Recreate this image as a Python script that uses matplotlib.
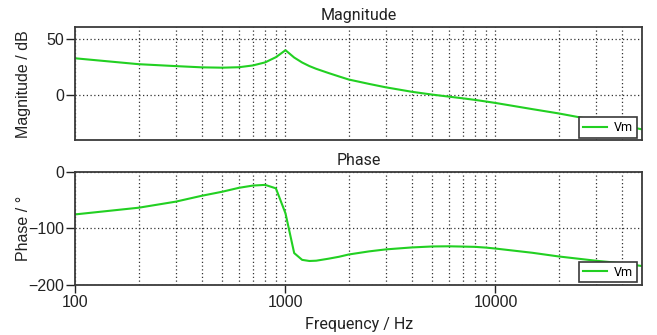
import matplotlib.pyplot as plt
import numpy as np
from matplotlib.ticker import LogLocator, NullFormatter, FixedLocator

# data
freq = [100, 200, 300, 400, 500, 600, 700, 800, 900, 1000,
        1100, 1200, 1300, 1400, 1600, 1800, 2000, 2500, 3000, 4000,
        5000, 6000, 7000, 8000, 9000, 10000, 15000, 20000, 30000, 40000, 50000]
mag_db = [32.5, 27.3, 25.6, 24.5, 24.2, 24.6, 26.2, 28.9, 33.5, 39.7,
          33.2, 28.8, 25.6, 23.2, 19.5, 16.4, 13.7, 9.8, 6.8, 2.8,
          0.3, -1.5, -3.0, -4.4, -5.8, -7.1, -12.6, -16.4, -22.5, -26.8, -30.6]
phase_deg = [-75.5, -63.7, -53.0, -42.5, -35.4, -28.5, -24.5, -23.3, -29.4, -73.7,
             -144.0, -156.0, -158.0, -157.5, -154.0, -150.5, -146.5, -141.0, -137.5, -134.0,
             -132.3, -132.0, -132.5, -133.0, -134.3, -136.0, -143.5, -150.0, -157.5, -162.0, -167.0]
series_name = "Vm"

green = '#22d022'
edge = '#3a3a3a'
txt = '#222222'

plt.rcParams['font.family'] = ['Liberation Sans', 'DejaVu Sans']
title_font = ['Roboto', 'DejaVu Sans']

fig = plt.figure(figsize=(6.57, 3.35), dpi=100)
ax1 = fig.add_axes([0.1149, 0.582, 0.8627, 0.3364])
ax2 = fig.add_axes([0.1149, 0.1501, 0.8627, 0.3373])

panels = [(ax1, mag_db, "Magnitude", "Magnitude / dB", (-40, 60), [0, 50]),
          (ax2, phase_deg, "Phase", "Phase / °", (-200, 0), [-200, -100, 0])]

for ax, vals, title, ylab, ylim, yt in panels:
    ax.plot(freq, vals, color=green, lw=1.5, label=series_name)
    ax.set_xscale('log')
    ax.set_xlim(100, 50000)
    ax.set_ylim(*ylim)
    ax.set_yticks(yt)
    ax.xaxis.set_major_locator(FixedLocator([100, 1000, 10000]))
    ax.xaxis.set_minor_locator(LogLocator(base=10, subs=np.arange(2, 10)))
    ax.xaxis.set_minor_formatter(NullFormatter())
    ax.grid(True, which='both', axis='x', color='#333333', ls=(0, (1, 2)), lw=0.9)
    ax.grid(True, which='major', axis='y', color='#333333', ls=(0, (1, 2)), lw=0.9)
    ax.set_title(title, fontsize=11.5, pad=5, color=txt, family=title_font)
    ax.set_ylabel(ylab, fontsize=11.5, color=txt)
    ax.yaxis.set_label_coords(-0.079, 0.5)
    ax.tick_params(axis='y', which='major', length=6.5, width=1, pad=1.5,
                   labelsize=11.5, colors=txt)
    ax.tick_params(axis='x', which='minor', length=0)
    for s in ax.spines.values():
        s.set_color(edge)
        s.set_linewidth(1.3)
    leg = ax.legend(loc='lower right', bbox_to_anchor=(0.991, 0.02),
                    handlelength=1.9, handletextpad=0.6, borderpad=0.3,
                    fancybox=False, framealpha=1, borderaxespad=0,
                    prop={'family': title_font, 'size': 9})
    leg.get_frame().set_edgecolor(edge)
    leg.get_frame().set_linewidth(1.2)

ax1.tick_params(axis='x', which='major', length=0, labelbottom=False)
ax2.tick_params(axis='x', which='major', length=5.5, width=1, pad=2,
                labelsize=11.5, colors=txt)
ax2.set_xticklabels(['100', '1000', '10000'])
ax2.set_xlabel("Frequency / Hz", fontsize=11.5, color=txt, labelpad=5, family=title_font)

plt.savefig("out.png", dpi=100)
